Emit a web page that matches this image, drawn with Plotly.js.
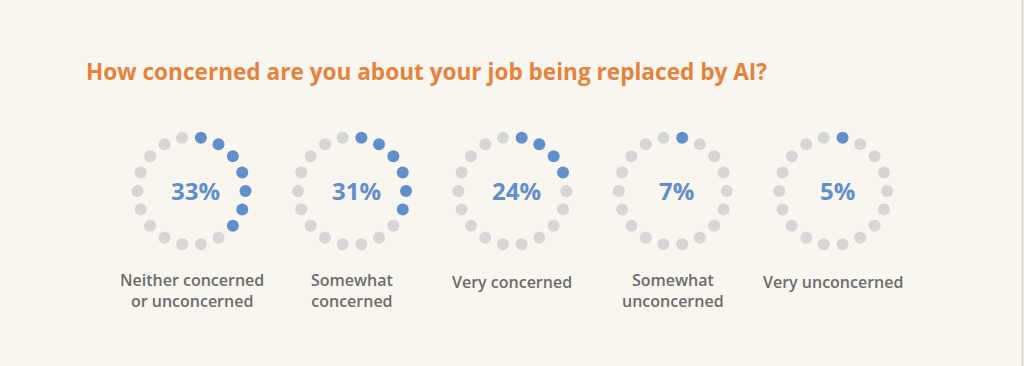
<!DOCTYPE html>
<html>
<head>
<meta charset="utf-8">
<script src="https://cdn.plot.ly/plotly-3.0.1.min.js"></script>
<style>
  html, body { margin: 0; padding: 0; background: #F8F6EF; }
  #chart { width: 1024px; height: 366px; }
</style>
</head>
<body>
<div id="chart"></div>
<script>
// ---- data ----
const titleText = "How concerned are you about your job being replaced by AI?";
const categories = ["Neither concerned<br>or unconcerned", "Somewhat<br>concerned", "Very concerned", "Somewhat<br>unconcerned", "Very unconcerned"];
const percents = [33, 31, 24, 7, 5];
const filledDots = [7, 6, 4, 1, 1];   // highlighted dots per ring, as drawn

// ---- layout constants ----
const W = 1024, H = 366;
const DOTS = 18;
const centersX = [191.5, 352, 512.3, 672.8, 833.2];
const centerY = 191;
const half = 60;        // half-size of each polar domain, px
const ringR = 54;       // dot ring radius, px
const BLUE = "#5F90CC", GREY = "#D6D6D6", ORANGE = "#E6823B", LABEL = "#6C6C6C";
const labelFirstLineY = 281.5, labelLineGap = 17.6;

const thetas = [];
for (let k = 0; k < DOTS; k++) thetas.push(10 + k * 360 / DOTS);

const traces = [];
const layout = {
  width: W, height: H,
  margin: {l: 0, r: 0, t: 0, b: 0},
  paper_bgcolor: "#F8F6EF",
  plot_bgcolor: "#F8F6EF",
  showlegend: false,
  annotations: [],
  shapes: [{type: "line", xref: "paper", yref: "paper", x0: 0.9985, x1: 0.9985, y0: 0, y1: 1,
            line: {color: "#D9D9D6", width: 2}}]
};

categories.forEach((cat, i) => {
  const pid = i === 0 ? "polar" : "polar" + (i + 1);
  traces.push({
    type: "scatterpolar",
    subplot: pid,
    mode: "markers",
    r: thetas.map(() => 1),
    theta: thetas,
    marker: {size: 12, color: thetas.map((t, k) => k < filledDots[i] ? BLUE : GREY), line: {width: 0}},
    hoverinfo: "skip"
  });
  const cx = centersX[i];
  layout[pid] = {
    domain: {x: [(cx - half) / W, (cx + half) / W], y: [1 - (centerY + half) / H, 1 - (centerY - half) / H]},
    bgcolor: "rgba(0,0,0,0)",
    radialaxis: {visible: false, range: [0, half / ringR]},
    angularaxis: {visible: false, rotation: 90, direction: "clockwise"}
  };
  layout.annotations.push({
    xref: "paper", yref: "paper", x: cx / W, y: 1 - centerY / H,
    xanchor: "center", yanchor: "middle", xshift: 4, yshift: 1,
    text: "<b>" + percents[i] + "%</b>", showarrow: false,
    font: {family: "Open Sans, sans-serif", size: 24, color: BLUE}
  });
  const nLines = cat.split("<br>").length;
  layout.annotations.push({
    xref: "paper", yref: "paper", x: cx / W,
    y: 1 - (labelFirstLineY + (nLines - 1) * labelLineGap / 2) / H,
    xanchor: "center", yanchor: "middle", align: "center",
    text: cat, showarrow: false,
    font: {family: "Open Sans, sans-serif", size: 16, color: LABEL, weight: 600}
  });
});

layout.annotations.push({
  xref: "paper", yref: "paper", x: 84 / W, y: 1 - 71 / H,
  xanchor: "left", yanchor: "middle",
  text: "<b>" + titleText + "</b>", showarrow: false,
  font: {family: "Open Sans, sans-serif", size: 22.6, color: ORANGE}
});

Plotly.newPlot("chart", traces, layout, {displayModeBar: false, staticPlot: true});
</script>
</body>
</html>
